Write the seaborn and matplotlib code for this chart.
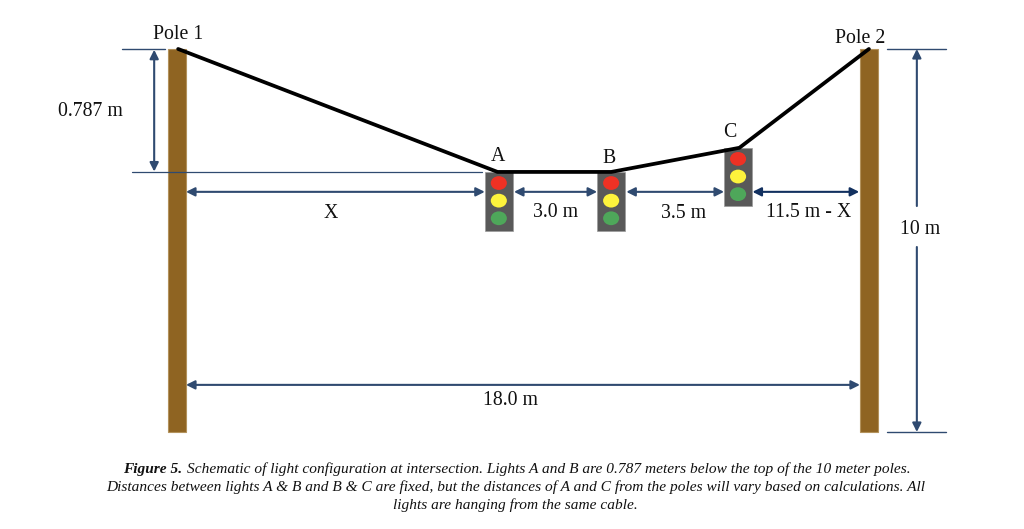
import matplotlib
matplotlib.use("Agg")
import matplotlib.pyplot as plt
from matplotlib.patches import Ellipse, Rectangle
import pandas as pd
import seaborn as sns

# everything is in metres, x from the inside of pole 1, y up from the pole foot
pole_names = ["Pole 1", "Pole 2"]
pole_left = [-0.48, 18.0]
pole_height = 10.0

cable_x = [-0.21, 8.32, 11.36, 14.78, 18.24]
cable_y = [10.0, 6.79, 6.79, 7.42, 10.0]

light_names = ["A", "B", "C"]
light_left = [7.98, 10.98, 14.37]
light_top = [6.79, 6.79, 7.42]
lamp_colors = ["#ee3124", "#fdf33c", "#4ea75a"]

FONT = "Liberation Serif"
NAVY = "#2f4a70"
TEXT = "#111111"

sns.set_theme(style="white")
plt.rcParams["font.family"] = FONT

fig = plt.figure(figsize=(10.24, 5.29), dpi=100)
ax = fig.add_axes([0, 0, 1, 1])
ax.set_xlim(-4.968, 22.382)
ax.set_ylim(-2.533, 11.279)
ax.axis("off")

# poles
for left in pole_left:
    ax.add_patch(Rectangle((left, 0), 0.48, pole_height, fc="#8f6422", ec="#b3925c", lw=0.8, zorder=2))

# cable
cable = pd.DataFrame({"x": cable_x, "y": cable_y})
sns.lineplot(data=cable, x="x", y="y", sort=False, estimator=None, color="black", lw=2.7,
             solid_joinstyle="round", ax=ax, zorder=4)
ax.set_xlabel("")
ax.set_ylabel("")

# traffic lights
for left, top in zip(light_left, light_top):
    ax.add_patch(Rectangle((left, top - 1.53), 0.75, 1.53, fc="#595959", ec="#9a9a9a", lw=0.5, zorder=3))
    for i, col in enumerate(lamp_colors):
        ax.add_patch(Ellipse((left + 0.375, top - 0.29 - i * 0.46), 0.43, 0.36, fc=col, ec="none", zorder=5))


def arrow(x0, y0, x1, y1, color=NAVY):
    ax.annotate("", xy=(x1, y1), xytext=(x0, y0),
                arrowprops=dict(arrowstyle="<|-|>", color=color, lw=1.5, mutation_scale=13,
                                shrinkA=0, shrinkB=0), zorder=3)


# helper lines
ax.plot([-1.71, -0.56], [10.0, 10.0], color=NAVY, lw=1)
ax.plot([-1.44, 7.9], [6.79, 6.79], color=NAVY, lw=0.9, zorder=3)
ax.plot([18.73, 20.3], [10.0, 10.0], color=NAVY, lw=1)
ax.plot([18.73, 20.3], [0.0, 0.0], color=NAVY, lw=1)

# dimension arrows
arrow(0.0, 6.27, 7.98, 6.27)
arrow(8.76, 6.27, 10.98, 6.27)
arrow(11.76, 6.27, 14.37, 6.27)
arrow(15.13, 6.27, 17.98, 6.27, color="#12305f")
arrow(0.0, 1.23, 18.0, 1.23)
arrow(-0.85, 9.98, -0.85, 6.8)
ax.annotate("", xy=(19.52, 10.0), xytext=(19.52, 5.9),
            arrowprops=dict(arrowstyle="-|>", color=NAVY, lw=1.5, mutation_scale=13, shrinkA=0, shrinkB=0))
ax.annotate("", xy=(19.52, 0.0), xytext=(19.52, 4.83),
            arrowprops=dict(arrowstyle="-|>", color=NAVY, lw=1.5, mutation_scale=13, shrinkA=0, shrinkB=0))

# labels
fs = 14.3
label_pos = [
    (-0.22, 10.38, pole_names[0]), (18.0, 10.28, pole_names[1]),
    (8.32, 7.2, light_names[0]), (11.3, 7.14, light_names[1]), (14.52, 7.83, light_names[2]),
    (3.86, 5.7, "X"), (9.88, 5.73, "3.0 m"), (13.3, 5.7, "3.5 m"), (16.62, 5.74, "11.5 m - X"),
    (19.6, 5.28, "10 m"), (8.66, 0.82, "18.0 m"), (-2.56, 8.38, "0.787 m"),
]
for x, y, s in label_pos:
    ax.text(x, y, s, ha="center", va="center", fontsize=fs, color=TEXT)

# caption, bold lead-in then italic text
cap = 11.1
fig.text(123 / 1024, 1 - 469 / 529, "Figure 5.", fontsize=cap, style="italic", weight="bold",
         color=TEXT, va="center")
fig.text(187 / 1024, 1 - 469 / 529,
         "Schematic of light configuration at intersection. Lights A and B are 0.787 meters below the top of the 10 meter poles.",
         fontsize=cap, style="italic", color=TEXT, va="center")
fig.text(515.5 / 1024, 1 - 487 / 529,
         "Distances between lights A & B and B & C are fixed, but the distances of A and C from the poles will vary based on calculations. All",
         fontsize=cap, style="italic", color=TEXT, ha="center", va="center")
fig.text(515.5 / 1024, 1 - 505 / 529, "lights are hanging from the same cable.",
         fontsize=cap, style="italic", color=TEXT, ha="center", va="center")

fig.savefig("out.png", dpi=100)
